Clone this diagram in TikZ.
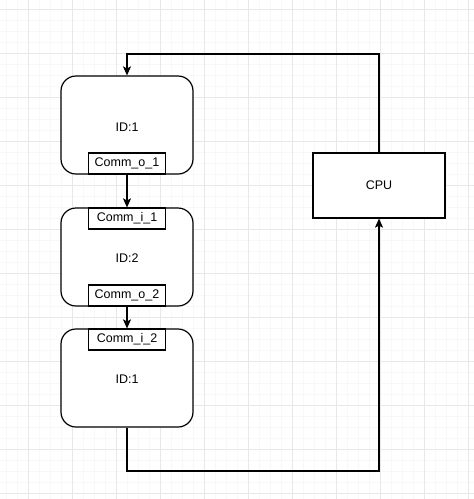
\documentclass[tikz,border=0pt]{standalone}
\usepackage{fontspec}
\setmainfont{Liberation Sans}
\usetikzlibrary{arrows.meta}
\definecolor{gridminor}{HTML}{F8F8F8}
\definecolor{gridmajor}{HTML}{E8E8E8}
\begin{document}
\begin{tikzpicture}[x=1pt,y=-1pt,
  every node/.style={font=\fontsize{12.5}{14}\selectfont, inner sep=0pt},
  procbox/.style={draw, line width=1.2pt, rounded corners=15pt, minimum width=132pt, minimum height=98pt, fill=white},
  portbox/.style={draw, line width=1.2pt, minimum width=77pt, minimum height=21pt, fill=white},
  cpubox/.style={draw, line width=1.2pt, minimum width=132pt, minimum height=65pt, fill=white},
  conn/.style={line width=1.2pt},
  arr/.style={conn, -{Stealth[length=9pt,width=8pt,inset=2pt]}}]
\useasboundingbox (0,0) rectangle (474,499);
\fill[white] (0,0) rectangle (474,499);
% grid
\foreach \x in {6,17,...,474} \draw[gridminor, line width=0.6pt] (\x,0) -- (\x,499);
\foreach \y in {9,20,...,499} \draw[gridminor, line width=0.6pt] (0,\y) -- (474,\y);
\foreach \x in {28,72,...,474} \draw[gridmajor, line width=0.8pt] (\x,0) -- (\x,499);
\foreach \y in {9,53,...,499} \draw[gridmajor, line width=0.8pt] (0,\y) -- (474,\y);
% nodes
\node[procbox] (b1) at (127,125) {};
\node (t1) at (127,127) {ID:1};
\node[portbox, anchor=south] (o1) at (b1.south) {Comm\_o\_1};
\node[procbox] (b2) at (127,257) {};
\node (t2) at (127,258) {ID:2};
\node[portbox, anchor=north] (i1) at (b2.north) {Comm\_i\_1};
\node[portbox, anchor=south] (o2) at (b2.south) {Comm\_o\_2};
\node[procbox] (b3) at (127,378) {};
\node (t3) at (127,379) {ID:1};
\node[portbox, anchor=north] (i2) at (b3.north) {Comm\_i\_2};
\node[cpubox] (cpu) at (379,185.5) {CPU};
\coordinate (tr) at (379,54);
\coordinate (tl) at (127,54);
\coordinate (bl) at (127,471);
\coordinate (br) at (379,471);
% connectors
\draw[arr] (o1.south) -- (i1.north);
\draw[arr] (o2.south) -- (i2.north);
\draw[arr] (cpu.north) -- (tr) -- (tl) -- (b1.north);
\draw[arr] (b3.south) -- (bl) -- (br) -- (cpu.south);
\end{tikzpicture}
\end{document}
